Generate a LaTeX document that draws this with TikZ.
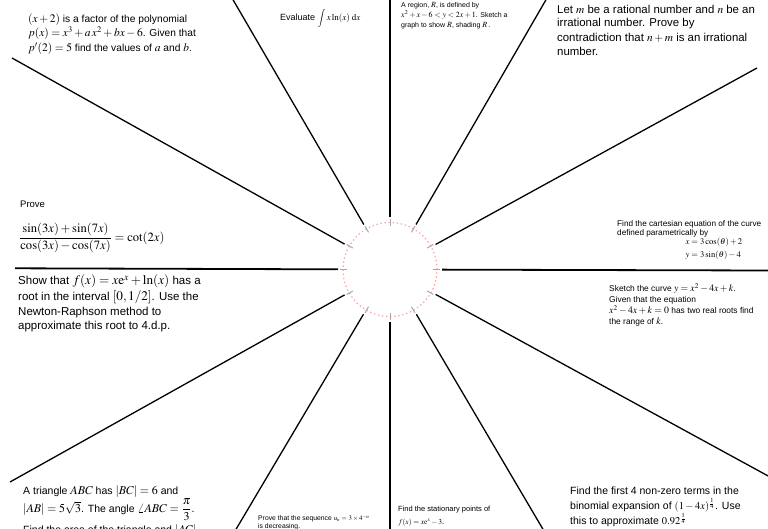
\documentclass[tikz,border=0pt]{standalone}
\usepackage{amsmath}
\usepackage{mathptmx}
\usepackage[no-math]{fontspec}
\setmainfont{Liberation Sans}
\usetikzlibrary{calc}
\newcommand\mth[2]{{\fontsize{#1}{#1}\selectfont$#2$}}
\begin{document}
\begin{tikzpicture}[x=1pt,y=-1pt,
  spoke/.style={line width=1.3pt, black},
  hspoke/.style={line width=1.8pt, black},
  tickm/.style={line width=1pt, gray!70},
  dotring/.style={red!35, line width=1.2pt, dash pattern=on 1.5pt off 2.6pt},
  txt/.style={anchor=north west, align=left, inner sep=0pt}]
\useasboundingbox (0,0) rectangle (768,529);
\coordinate (c) at (390,269.5);
% spoke end points
\coordinate (e1) at (768,270.5);
\coordinate (e2) at (757,68);
\coordinate (e3) at (547,-2);
\coordinate (e4) at (390,-2);
\coordinate (e5) at (232,-2);
\coordinate (e6) at (12,58);
\coordinate (e7) at (15,268.3);
\coordinate (e8) at (10,482);
\coordinate (e9) at (235,531);
\coordinate (e10) at (390,531);
\coordinate (e11) at (544,531);
\coordinate (e12) at (770,477);
% ring
\draw[dotring] (c) circle[radius=47pt];
\foreach \a in {0,30,...,330}
  \draw[tickm] ($(c)+(\a:43pt)$) -- ($(c)+(\a:50pt)$);
% spokes
\foreach \i in {2,3,4,5,6,8,9,10,11,12}
  \draw[spoke] ($(c)!52pt!(e\i)$) -- (e\i);
\foreach \i in {1,7}
  \draw[hspoke] ($(c)!52pt!(e\i)$) -- (e\i);
% texts
\node[txt, font=\fontsize{10.2}{14.5}\selectfont] (t1) at (28,13.5)
  {\mth{11.5}{(x+2)} is a factor of the polynomial\\ \mth{11.5}{p(x)=x^3+a\,x^2+bx-6}. Given that\\ \mth{11.5}{p'(2)=5} find the values of \mth{11.5}{a} and \mth{11.5}{b}.};
\node[anchor=west, inner sep=0pt, font=\fontsize{9}{11}\selectfont] (t2) at (280,18)
  {Evaluate $\displaystyle\int x\ln(x)\;\mathrm{d}x$};
\node[txt, font=\fontsize{7}{10}\selectfont] (t3) at (401,1.8)
  {A region, \mth{8}{R}, is defined by\\ \mth{8}{x^2+x-6<y<2x+1}. Sketch a\\ graph to show \mth{8}{R}, shading \mth{8}{R}\,.};
\node[txt, font=\fontsize{11.4}{13.5}\selectfont] (t4) at (557,4.8)
  {Let $m$ be a rational number and $n$ be an\\ irrational number. Prove by\\[1.5pt] contradiction that $n+m$ is an irrational\\ number.};
\node[anchor=base west, inner sep=0pt, font=\fontsize{9.5}{11}\selectfont] (t5) at (20,207.5) {Prove};
\node[anchor=west, inner sep=0pt, font=\fontsize{12.6}{14}\selectfont] (t5b) at (19,238)
  {$\dfrac{\sin(3x)+\sin(7x)}{\cos(3x)-\cos(7x)}=\cot(2x)$};
\node[txt, font=\fontsize{11.5}{14.5}\selectfont] (t6) at (18,274.7)
  {Show that \mth{13.2}{f(x)=x\mathrm{e}^x+\ln(x)} has a\\[1.5pt] root in the interval \mth{13.2}{[0,1/2]}. Use the\\ Newton-Raphson method to\\ approximate this root to 4.d.p.};
\node[txt, font=\fontsize{8.2}{9.5}\selectfont] (t7) at (617,220)
  {Find the cartesian equation of the curve\\ defined parametrically by};
\node[anchor=center, inner sep=0pt, font=\fontsize{8.6}{9.5}\selectfont] (t7b) at (714,249)
  {$\begin{aligned} x&=3\cos(\theta)+2\\ y&=3\sin(\theta)-4\end{aligned}$};
\node[txt, font=\fontsize{8.4}{11}\selectfont] (t8) at (609,283)
  {Sketch the curve \mth{9.8}{y=x^2-4x+k}.\\ Given that the equation\\ \mth{9.8}{x^2-4x+k=0} has two real roots find\\ the range of \mth{9.8}{k}.};
\node[txt, font=\fontsize{10.5}{15}\selectfont] (t9) at (23,485)
  {A triangle \mth{12}{ABC} has \mth{12}{|BC|=6} and\\ \mth{12}{|AB|=5\sqrt{3}}. The angle \mth{12}{\angle ABC=\dfrac{\pi}{3}}.\\[3pt] Find the area of the triangle and \mth{12}{|AC|}.};
\node[txt, font=\fontsize{6.8}{8}\selectfont] (t10) at (258,515)
  {Prove that the sequence $u_n=3\times4^{-n}$\\ is decreasing.};
\node[txt, font=\fontsize{7.5}{13.5}\selectfont] (t11) at (398,505.5)
  {Find the stationary points of\\ $f(x)=x\mathrm{e}^x-3$.};
\node[txt, font=\fontsize{10.5}{15}\selectfont] (t12) at (570,487)
  {Find the first 4 non-zero terms in the\\ binomial expansion of $(1-4x)^{\frac{1}{4}}$. Use\\ this to approximate $0.92^{\frac{1}{4}}$};
\end{tikzpicture}
\end{document}
